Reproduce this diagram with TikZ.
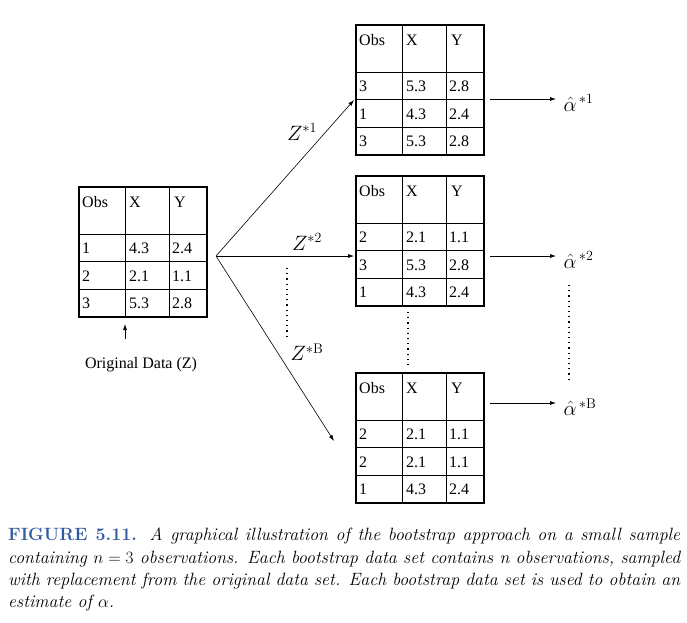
\documentclass[tikz,border=0pt]{standalone}
\usepackage{fontspec}
\newfontfamily\tms{Liberation Serif}
\usetikzlibrary{arrows.meta}
\definecolor{capblue}{RGB}{50,90,160}
\begin{document}
\begin{tikzpicture}[x=1pt,y=-1pt,
  cell/.style={font=\tms\fontsize{16}{18}\selectfont,anchor=west,inner sep=0pt},
  arr/.style={-{Latex[length=6pt,width=4pt]},line width=0.6pt},
  lab/.style={font=\tms\fontsize{20}{22}\selectfont},
  dots/.style={line width=1.5pt,dash pattern=on 1.2pt off 4pt}]
\useasboundingbox (0,0) rectangle (687,622);
\tikzset{tab/.pic={
  \draw[line width=1.2pt] (0,0) rectangle (128,130);
  \draw[line width=0.6pt] (46,0) -- (46,130) (90,0) -- (90,130)
     (0,47) -- (128,47) (0,74) -- (128,74) (0,102) -- (128,102);
}}
\newcommand{\tbl}[3]{%
 \pic at (#1,#2) {tab};
 \node[cell] at (#1+3,#2+15) {Obs};
 \node[cell] at (#1+50,#2+15) {X};
 \node[cell] at (#1+95,#2+15) {Y};
 \foreach \o/\x/\y [count=\i] in {#3}{
   \node[cell] at (#1+3,#2+47+27.5*\i-13) {\o};
   \node[cell] at (#1+50,#2+47+27.5*\i-13) {\x};
   \node[cell] at (#1+93,#2+47+27.5*\i-13) {\y};}
}
\tbl{79}{187}{1/4.3/2.4,2/2.1/1.1,3/5.3/2.8}
\tbl{356}{25}{3/5.3/2.8,1/4.3/2.4,3/5.3/2.8}
\tbl{356}{176}{2/2.1/1.1,3/5.3/2.8,1/4.3/2.4}
\tbl{356}{373}{2/2.1/1.1,2/2.1/1.1,1/4.3/2.4}
\coordinate (f) at (216,256);
\coordinate (t1) at (354,100);
\coordinate (t2) at (354,256);
\coordinate (t3) at (334,441);
\draw[arr] (f) -- (t1);
\draw[arr] (f) -- (t2);
\draw[arr] (f) -- (t3);
\node[lab] (z1) at (302,132) {$Z^{*\mathrm{1}}$};
\node[lab] (z2) at (307,242) {$Z^{*\mathrm{2}}$};
\node[lab] (zb) at (307,352) {$Z^{*\mathrm{B}}$};
\draw[dots] (287,268) -- (287,340);
\draw[dots] (408,312) -- (408,368);
\draw[dots] (569,285) -- (569,380);
\coordinate (oa) at (125,339);
\coordinate (ob) at (125,324);
\draw[arr] (oa) -- (ob);
\node[font=\tms\fontsize{16}{18}\selectfont] (orig) at (141,365) {Original Data (Z)};
\foreach \y/\s [count=\i] in {99/1,256/2,403/B}{
  \coordinate (a\i) at (490,\y);
  \coordinate (b\i) at (556,\y);
  \draw[arr] (a\i) -- (b\i);
  \node[lab,anchor=west] (h\i) at (560,\y+4) {$\hat{\alpha}^{\,*\mathrm{\s}}$};
}
\node[anchor=north west,text width=672pt,align=justify,inner sep=0pt,
  font=\fontsize{17.8}{22.3}\selectfont\itshape] (cap) at (8,528)
 {{\upshape\bfseries\color{capblue}FIGURE 5.11.} A graphical illustration of the bootstrap approach on a small sample containing $n=3$ observations. Each bootstrap data set contains n observations, sampled with replacement from the original data set. Each bootstrap data set is used to obtain an estimate of $\alpha$.};
\end{tikzpicture}
\end{document}
